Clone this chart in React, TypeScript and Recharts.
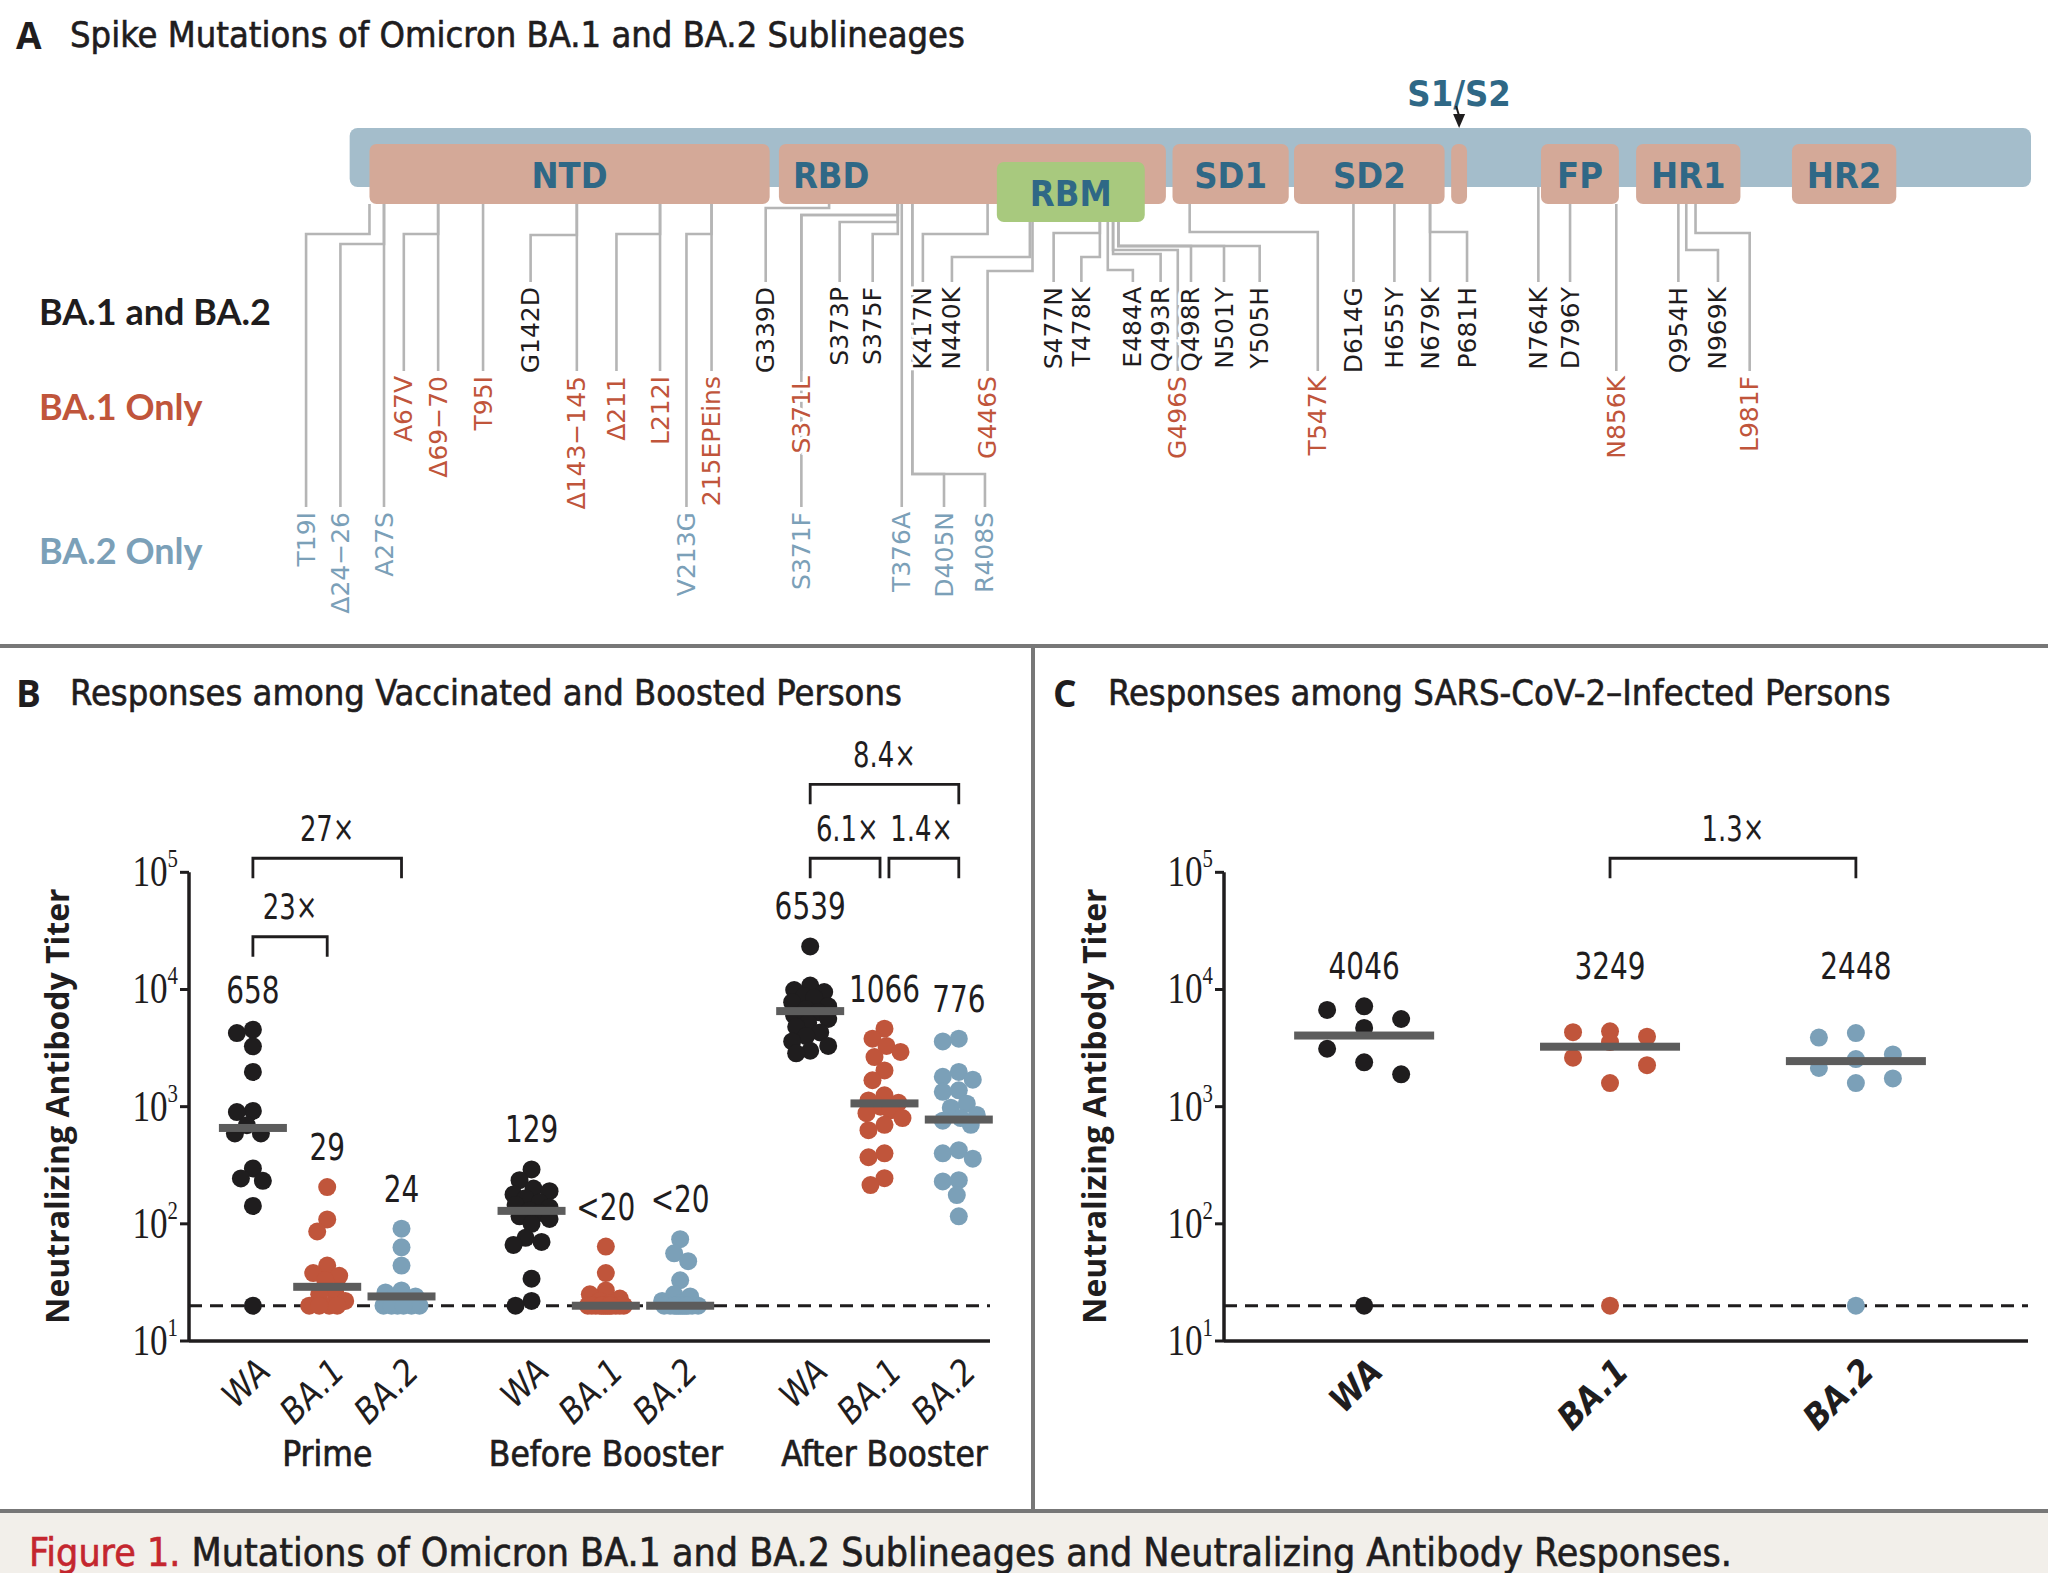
import React from 'react'
import {
  ComposedChart,
  Line,
  ReferenceArea,
  ReferenceDot,
  ReferenceLine,
  Scatter,
  XAxis,
  YAxis,
} from 'recharts'

const NARROW = "'Liberation Sans Narrow', 'DejaVu Sans Condensed', 'Liberation Sans', sans-serif"
const HEAVY = "'Open Sans', 'DejaVu Sans', sans-serif"
const ROUND = "Lato, 'Open Sans', sans-serif"
const PLAIN = "'DejaVu Sans', 'Noto Sans', sans-serif"
const SERIF = "'Liberation Serif', 'DejaVu Serif', serif"

const INK = '#1f1d1e'
const RED = '#c0553b'
const BLUE = '#7ba0b8'
const TEAL = '#2f6886'
const LEADER = '#b5b5b5'
const MEDIAN = '#5c5c5c'

// ---------- panel A: spike schematic (positions along the drawn bar, 1..1273) ----------
const domainNames = ['NTD', 'RBD', 'RBM', 'SD1', 'SD2', '', 'FP', 'HR1', 'HR2']
const domainStart = [15, 325, 490, 623, 715, 834, 902, 974, 1092]
const domainEnd = [318, 618, 602, 711, 829, 846, 961, 1053, 1171]
const cleavageSite = 840

// [mutation, lineage, site on bar, label slot, elbow depth]
const mutations: [string, string, number, number, number | null][] = [
  ['T19I', 'ba2', 15, -33, 234],
  ['Δ24−26', 'ba2', 26, -7, 244],
  ['A27S', 'ba2', 26, 26, null],
  ['A67V', 'ba1', 67, 41, 234],
  ['Δ69−70', 'ba1', 67, 67, null],
  ['T95I', 'ba1', 101, 101, null],
  ['G142D', 'both', 172, 137, 235],
  ['Δ143−145', 'ba1', 172, 172, null],
  ['Δ211', 'ba1', 235, 202, 234],
  ['L212I', 'ba1', 235, 235, null],
  ['V213G', 'ba2', 274, 255, 234],
  ['215EPEins', 'ba1', 274, 274, null],
  ['G339D', 'both', 363, 315, 208],
  ['S371L', 'ba1', 415, 342, 215],
  ['S371F', 'ba2', 415, 342, 215],
  ['S373P', 'both', 415, 371, 222],
  ['S375F', 'both', 415, 396, 234],
  ['T376A', 'ba2', 418, 418, null],
  ['D405N', 'ba2', 426, 450, 474],
  ['R408S', 'ba2', 426, 481, 474],
  ['K417N', 'both', 483, 434, 234],
  ['N440K', 'both', 515, 456, 257],
  ['G446S', 'ba1', 517, 483, 271],
  ['S477N', 'both', 568, 533, 233],
  ['T478K', 'both', 568, 554, 257],
  ['E484A', 'both', 574, 593, 270],
  ['Q493R', 'both', 578, 614, 254],
  ['G496S', 'ba1', 578, 627, 250],
  ['Q498R', 'both', 582, 637, 246],
  ['N501Y', 'both', 582, 662, 246],
  ['Y505H', 'both', 582, 689, 246],
  ['T547K', 'ba1', 636, 733, 232],
  ['D614G', 'both', 760, 760, null],
  ['H655Y', 'both', 791, 791, null],
  ['N679K', 'both', 818, 818, null],
  ['P681H', 'both', 818, 846, 232],
  ['N764K', 'both', 900, 900, null],
  ['D796Y', 'both', 924, 924, null],
  ['N856K', 'ba1', 959, 959, null],
  ['Q954H', 'both', 1006, 1006, null],
  ['N969K', 'both', 1012, 1036, 250],
  ['L981F', 'ba1', 1019, 1060, 233],
]

// ---------- panels B and C: neutralizing titers ----------
const strains = ['WA', 'BA.1', 'BA.2']
const cohorts = ['Prime', 'Before Booster', 'After Booster']

const primeWA = [4540, 4250, 3270, 1980, 920, 900, 694, 590, 590, 297, 244, 233, 142, 20]
const primeBA1 = [206, 109, 86, 44, 38, 36, 33, 26, 25, 22, 20, 20, 20, 20]
const primeBA2 = [91, 63, 44, 27, 26, 24, 23, 22, 20, 20, 20, 20, 20, 20]
const beforeWA = [291, 236, 200, 190, 178, 165, 152, 145, 138, 130, 124, 116, 110, 100, 76, 70, 66, 34, 22, 20]
const beforeBA1 = [64, 38, 27, 25, 23, 22, 21, 20, 20, 20, 20, 20, 20, 20, 20, 20, 20, 20, 20, 20]
const beforeBA2 = [74, 56, 48, 33, 25, 24, 22, 21, 20, 20, 20, 20, 20, 20, 20, 20, 20, 20, 20, 20]
const afterWA = [23300, 10800, 9900, 9500, 8800, 8500, 7800, 7200, 6800, 6400, 6000, 5600, 5200, 4800, 4300, 4000, 3600, 3300, 3000, 2850]
const afterBA1 = [4630, 3800, 3300, 2930, 2650, 2040, 1680, 1250, 1130, 1080, 1000, 930, 880, 800, 700, 630, 400, 370, 245, 214]
const afterBA2 = [3800, 3600, 1980, 1800, 1700, 1380, 1340, 1060, 980, 850, 800, 760, 700, 425, 400, 360, 236, 230, 176, 116]
const mediansB = [658, 29, 24, 129, 20, 20, 6539, 1066, 776]
const medianTextB = ['658', '29', '24', '129', '<20', '<20', '6539', '1066', '776']

const infectedWA = [7180, 6690, 5600, 4700, 3120, 2390, 1890, 20]
const infectedBA1 = [4400, 4320, 3960, 3560, 2620, 2260, 1590, 20]
const infectedBA2 = [4250, 3890, 2790, 2550, 2140, 1740, 1590, 20]
const mediansC = [4046, 3249, 2448]

// [fold change, from group, to group, log10 of bracket top]
const bracketsB: [string, number, number, number][] = [
  ['23×', 0, 1, 4.45],
  ['27×', 0, 2, 5.12],
  ['6.1×', 6, 7, 5.12],
  ['1.4×', 7, 8, 5.12],
  ['8.4×', 6, 8, 5.75],
]
const bracketsC: [string, number, number, number][] = [['1.3×', 1, 2, 5.12]]

const strainColors = [INK, RED, BLUE]
const lineageColor: Record<string, string> = { both: INK, ba1: RED, ba2: BLUE }

// ---------- layout ----------
const A_H = 640
const BAR = [128, 187]
const BOX = [144, 204]
const INNER_BOX = [162, 222]
const ROW_TOP: Record<string, number> = { both: 287, ba1: 376, ba2: 512 }

const PANEL_TOP = 646
const PANEL_H = 865
const MARGIN_TOP = 74
const MARGIN_BOTTOM = 140
const X_AXIS_H = 30
const Y_AXIS_W = 60
const Y_DOMAIN = [10, 10 ** 6.3]
const Y_TICKS = [10, 100, 1000, 10000, 100000]

const isNested = (i: number) =>
  domainStart.some((s, j) => j !== i && s <= domainStart[i] && domainEnd[j] >= domainEnd[i])
const hasChild = (i: number) =>
  domainStart.some((s, j) => j !== i && s >= domainStart[i] && domainEnd[j] <= domainEnd[i])

const leaderTop = (site: number) => {
  let y = BAR[1]
  domainStart.forEach((s, i) => {
    if (site >= s && site <= domainEnd[i]) y = Math.max(y, isNested(i) ? INNER_BOX[1] : BOX[1])
  })
  return y
}

// deterministic beeswarm, in pixels, returned in x-axis units
function swarm(values: number[], pxPerX: number, pxPerDecade: number, diam: number, offsets: number[]) {
  const order = values.map((_, i) => i).sort((a, b) => values[b] - values[a])
  const placed: { x: number; y: number }[] = []
  const out: number[] = new Array(values.length).fill(0)
  for (const i of order) {
    const y = -Math.log10(values[i]) * pxPerDecade
    let best = 0
    let bestGap = -1
    for (const c of offsets) {
      const gap = placed.reduce((m, p) => Math.min(m, Math.hypot(p.x - c, p.y - y)), Infinity)
      if (gap >= diam) {
        best = c
        break
      }
      if (gap > bestGap) {
        best = c
        bestGap = gap
      }
    }
    placed.push({ x: best, y })
    out[i] = best / pxPerX
  }
  return out
}

const Txt = ({ x, y, size, color = INK, family = NARROW, weight = 400, stroke = 0, children }: any) => (
  <div
    style={{
      position: 'absolute',
      left: x,
      top: y,
      transform: 'translateY(-50%)',
      fontSize: size,
      lineHeight: 1,
      fontFamily: family,
      fontWeight: weight,
      color,
      whiteSpace: 'nowrap',
      WebkitTextStroke: stroke ? `${stroke}px ${color}` : undefined,
    }}
  >
    {children}
  </div>
)

const VTxt = ({ x, y, size, children }: any) => (
  <div
    style={{
      position: 'absolute',
      left: x,
      top: y,
      writingMode: 'vertical-rl',
      transform: 'translate(-50%, -50%) rotate(180deg)',
      fontSize: size,
      lineHeight: 1,
      fontFamily: HEAVY,
      fontWeight: 700,
      color: INK,
      whiteSpace: 'nowrap',
    }}
  >
    {children}
  </div>
)

// condensed svg text: taller glyphs squeezed horizontally
const Tall = ({ x, y, size, squeeze = 0.84, anchor = 'middle', children }: any) => (
  <text
    transform={`translate(${x} ${y}) scale(${squeeze} 1)`}
    textAnchor={anchor}
    dominantBaseline="central"
    fontFamily={NARROW}
    fontSize={size}
    fill={INK}
  >
    {children}
  </text>
)

const MutationLabel = ({ cx, cy, payload }: any) => (
  <text
    x={cx}
    y={cy}
    transform={`rotate(-90 ${cx} ${cy})`}
    textAnchor="end"
    dominantBaseline="central"
    fontFamily={PLAIN}
    fontSize={25}
    fill={lineageColor[payload.lineage]}
    stroke="#fff"
    strokeWidth={6}
    paintOrder="stroke"
  >
    {payload.name}
  </text>
)

const CleavageMark = ({ cx, cy }: any) => (
  <g>
    <text x={cx} y={cy - 35} textAnchor="middle" dominantBaseline="central" fontFamily={NARROW} fontSize={36} fontWeight={700} fill={TEAL}>
      S1/S2
    </text>
    <line x1={cx - 3} y1={cy - 22} x2={cx} y2={cy - 12} stroke={INK} strokeWidth={2} />
    <path d={`M${cx - 6},${cy - 14} L${cx + 6},${cy - 14} L${cx},${cy} Z`} fill={INK} />
  </g>
)

function SpikeMap() {
  const labelData = mutations.map(([name, lineage, , slot]) => ({ x: slot, y: ROW_TOP[lineage], name, lineage }))
  const leaders = mutations.map(([, lineage, site, slot, elbow]) => {
    const top = leaderTop(site)
    const end = ROW_TOP[lineage] - 5
    return elbow == null
      ? [{ x: site, y: top }, { x: site, y: end }]
      : [{ x: site, y: top }, { x: site, y: elbow }, { x: slot, y: elbow }, { x: slot, y: end }]
  })

  return (
    <ComposedChart width={2048} height={A_H} margin={{ top: 0, right: 17, bottom: 0, left: 244 }}>
      <XAxis type="number" dataKey="x" domain={[-80, 1273]} hide />
      <YAxis type="number" dataKey="y" domain={[0, A_H]} reversed hide />
      <ReferenceArea
        x1={0}
        x2={1273}
        y1={BAR[0]}
        y2={BAR[1]}
        shape={(p: any) => <rect x={p.x} y={p.y} width={p.width} height={p.height} rx={8} fill="#a4bdcb" />}
      />
      {leaders.map((pts, i) => (
        <Line
          key={mutations[i][0]}
          data={pts}
          dataKey="y"
          type="linear"
          stroke={LEADER}
          strokeWidth={2.6}
          dot={false}
          isAnimationActive={false}
        />
      ))}
      {domainNames.map((name, i) => {
        const nested = isNested(i)
        const [y1, y2] = nested ? INNER_BOX : BOX
        return (
          <ReferenceArea
            key={i}
            x1={domainStart[i]}
            x2={domainEnd[i]}
            y1={y1}
            y2={y2}
            shape={(p: any) => (
              <g>
                <rect x={p.x} y={p.y} width={p.width} height={p.height} rx={7} fill={nested ? '#a8c97e' : '#d4a998'} />
                <text
                  x={hasChild(i) ? p.x + 14 : p.x + p.width / 2}
                  y={p.y + p.height / 2 + 1}
                  textAnchor={hasChild(i) ? 'start' : 'middle'}
                  dominantBaseline="central"
                  fontFamily={NARROW}
                  fontSize={36}
                  fontWeight={700}
                  fill={TEAL}
                >
                  {name}
                </text>
              </g>
            )}
          />
        )
      })}
      <ReferenceDot x={cleavageSite} y={BAR[0]} shape={CleavageMark} />
      <Scatter data={labelData} shape={MutationLabel} isAnimationActive={false} />
    </ComposedChart>
  )
}

const PowerTick = ({ x, y, payload }: any) => (
  <text transform={`translate(${x} ${y + 14}) scale(0.8 1)`} textAnchor="end" fontFamily={SERIF} fontSize={44} fill={INK}>
    10
    <tspan dy={-19} fontSize={26}>
      {Math.round(Math.log10(payload.value))}
    </tspan>
  </text>
)

type Group = { slot: number; strain: number; values: number[]; median: number; text: string }

function TiterPanel({ width, left, right, xDomain, groups, brackets, diam, offsets, medianWidth, alignLabels, tick }: any) {
  const plotW = width - left - Y_AXIS_W - right
  const plotH = PANEL_H - MARGIN_TOP - MARGIN_BOTTOM - X_AXIS_H
  const pxPerX = plotW / (xDomain[1] - xDomain[0])
  const pxPerDecade = plotH / Math.log10(Y_DOMAIN[1] / Y_DOMAIN[0])
  const all: Group[] = groups
  const panelMax = Math.max(...all.flatMap((g) => g.values))

  const dots = strainColors.map((_, s) =>
    all
      .filter((g) => g.strain === s)
      .flatMap((g) => {
        const off = swarm(g.values, pxPerX, pxPerDecade, diam, offsets)
        return g.values.map((v, i) => ({ x: g.slot + off[i], y: v }))
      }),
  )
  const medians = all.map((g) => ({ x: g.slot, y: g.median }))
  const labels = all.map((g) => ({ x: g.slot, y: alignLabels ? panelMax : Math.max(...g.values), text: g.text }))

  const bracketPaths = (brackets as [string, number, number, number][]).map(([, from, to, level]) => {
    const touchesLeft = brackets.some((b: any) => b[3] === level && b[2] === from)
    const touchesRight = brackets.some((b: any) => b[3] === level && b[1] === to)
    const x1 = all[from].slot + (touchesLeft ? 0.06 : 0)
    const x2 = all[to].slot - (touchesRight ? 0.06 : 0)
    const top = 10 ** level
    const leg = 10 ** (level - 0.17)
    return [{ x: x1, y: leg }, { x: x1, y: top }, { x: x2, y: top }, { x: x2, y: leg }]
  })
  const bracketLabels = (brackets as [string, number, number, number][]).map(([fold, from, to, level]) => ({
    x: (all[from].slot + all[to].slot) / 2,
    y: 10 ** (level + 0.255),
    text: fold,
  }))

  return (
    <ComposedChart
      width={width}
      height={PANEL_H}
      margin={{ top: MARGIN_TOP, right, bottom: MARGIN_BOTTOM, left }}
    >
      <XAxis
        type="number"
        dataKey="x"
        domain={xDomain}
        ticks={all.map((g) => g.slot)}
        interval={0}
        height={X_AXIS_H}
        tickLine={false}
        tickSize={0}
        tickMargin={0}
        axisLine={{ stroke: INK, strokeWidth: 3.5 }}
        tick={tick}
      />
      <YAxis
        type="number"
        dataKey="y"
        scale="log"
        domain={Y_DOMAIN}
        ticks={Y_TICKS}
        interval={0}
        width={Y_AXIS_W}
        axisLine={false}
        tickLine={{ stroke: INK, strokeWidth: 3 }}
        tickSize={9}
        tickMargin={2}
        tick={PowerTick}
      />
      <ReferenceLine
        segment={[
          { x: xDomain[0], y: Y_TICKS[0] },
          { x: xDomain[0], y: Y_TICKS[Y_TICKS.length - 1] },
        ]}
        stroke={INK}
        strokeWidth={3.5}
      />
      <ReferenceLine y={20} stroke={INK} strokeWidth={3} strokeDasharray="13 8" />
      {dots.map((data, s) => (
        <Scatter
          key={strains[s]}
          data={data}
          isAnimationActive={false}
          shape={({ cx, cy }: any) => <circle cx={cx} cy={cy} r={9} fill={strainColors[s]} />}
        />
      ))}
      <Scatter
        data={medians}
        isAnimationActive={false}
        shape={({ cx, cy }: any) => <rect x={cx - medianWidth / 2} y={cy - 4} width={medianWidth} height={8} fill={MEDIAN} />}
      />
      <Scatter
        data={labels}
        isAnimationActive={false}
        shape={({ cx, cy, payload }: any) => (
          <Tall x={cx} y={cy - 40} size={37}>
            {payload.text}
          </Tall>
        )}
      />
      {bracketPaths.map((pts, i) => (
        <Line
          key={i}
          data={pts}
          dataKey="y"
          type="linear"
          stroke={INK}
          strokeWidth={2.8}
          dot={false}
          isAnimationActive={false}
        />
      ))}
      <Scatter
        data={bracketLabels}
        isAnimationActive={false}
        shape={({ cx, cy, payload }: any) => (
          <Tall x={cx} y={cy} size={36} squeeze={0.8}>
            {payload.text}
          </Tall>
        )}
      />
    </ComposedChart>
  )
}

const cohortValues = [
  [primeWA, primeBA1, primeBA2],
  [beforeWA, beforeBA1, beforeBA2],
  [afterWA, afterBA1, afterBA2],
]
const groupsB: Group[] = cohortValues.flatMap((vals, c) =>
  vals.map((values, s) => ({
    slot: c * 3.75 + s,
    strain: s,
    values,
    median: mediansB[c * 3 + s],
    text: medianTextB[c * 3 + s],
  })),
)
const groupsC: Group[] = [infectedWA, infectedBA1, infectedBA2].map((values, s) => ({
  slot: s,
  strain: s,
  values,
  median: mediansC[s],
  text: String(mediansC[s]),
}))

const offsetsB = [0]
for (let d = 2; d <= 18; d += 2) offsetsB.push(-d, d)

const TickB = ({ x, y, payload }: any) => {
  const i = groupsB.findIndex((g) => Math.abs(g.slot - payload.value) < 1e-6)
  if (i < 0) return null
  const g = groupsB[i]
  const ax = x + 11
  const ay = y + 24
  return (
    <g>
      <text
        x={ax}
        y={ay}
        transform={`rotate(-45 ${ax} ${ay})`}
        textAnchor="end"
        dominantBaseline="central"
        fontFamily={NARROW}
        fontStyle="italic"
        fontSize={35}
        fill={INK}
      >
        {strains[g.strain]}
      </text>
      {g.strain === 1 && (
        <text x={x} y={y + 113} textAnchor="middle" dominantBaseline="central" fontFamily={NARROW} fontSize={35} fill={INK} stroke={INK} strokeWidth={0.7}>
          {cohorts[Math.floor(i / 3)]}
        </text>
      )}
    </g>
  )
}

const TickC = ({ x, y, payload }: any) => {
  const i = groupsC.findIndex((g) => Math.abs(g.slot - payload.value) < 1e-6)
  if (i < 0) return null
  const ax = x + 12
  const ay = y + 24
  return (
    <text
      x={ax}
      y={ay}
      transform={`rotate(-45 ${ax} ${ay})`}
      textAnchor="end"
      dominantBaseline="central"
      fontFamily={NARROW}
      fontStyle="italic"
      fontWeight={700}
      fontSize={35}
      fill={INK}
    >
      {strains[groupsC[i].strain]}
    </text>
  )
}

export default function App() {
  return (
    <div style={{ position: 'absolute', left: 0, top: 0, width: 2048, height: 1573, background: '#fff', overflow: 'hidden' }}>
      <div style={{ position: 'absolute', left: 0, top: 0 }}>
        <SpikeMap />
      </div>

      <Txt x={16} y={34} size={37} family={HEAVY} weight={700}>A</Txt>
      <Txt x={70} y={35} size={36} stroke={0.6}>Spike Mutations of Omicron BA.1 and BA.2 Sublineages</Txt>
      <Txt x={39} y={311} size={36} family={ROUND} weight={700}>BA.1 and BA.2</Txt>
      <Txt x={39} y={406} size={36} family={ROUND} weight={700} color={RED}>BA.1 Only</Txt>
      <Txt x={39} y={550} size={36} family={ROUND} weight={700} color={BLUE}>BA.2 Only</Txt>

      <div style={{ position: 'absolute', left: 0, top: 644, width: 2048, height: 4, background: '#777' }} />
      <div style={{ position: 'absolute', left: 1031, top: 646, width: 4, height: 865, background: '#777' }} />

      <Txt x={16} y={692} size={37} family={HEAVY} weight={700}>B</Txt>
      <Txt x={70} y={693} size={36} stroke={0.6}>Responses among Vaccinated and Boosted Persons</Txt>
      <Txt x={1053} y={692} size={37} family={HEAVY} weight={700}>C</Txt>
      <Txt x={1108} y={693} size={36} stroke={0.6}>Responses among SARS-CoV-2–Infected Persons</Txt>

      <div style={{ position: 'absolute', left: 0, top: PANEL_TOP }}>
        <TiterPanel
          width={1031}
          left={129}
          right={41}
          xDomain={[-0.86, 9.92]}
          groups={groupsB}
          brackets={bracketsB}
          diam={15}
          offsets={offsetsB}
          medianWidth={68}
          alignLabels={false}
          tick={TickB}
        />
      </div>
      <div style={{ position: 'absolute', left: 1033, top: PANEL_TOP }}>
        <TiterPanel
          width={1015}
          left={131}
          right={20}
          xDomain={[-0.57, 2.7]}
          groups={groupsC}
          brackets={bracketsC}
          diam={26}
          offsets={[0, -37, 37]}
          medianWidth={140}
          alignLabels={true}
          tick={TickC}
        />
      </div>
      <VTxt x={57} y={1106} size={32}>Neutralizing Antibody Titer</VTxt>
      <VTxt x={1094} y={1106} size={32}>Neutralizing Antibody Titer</VTxt>

      <div style={{ position: 'absolute', left: 0, top: 1509, width: 2048, height: 64, background: '#f2efea', borderTop: '4px solid #777' }} />
      <Txt x={29} y={1552} size={39} stroke={0.6}>
        <span style={{ color: '#c4262e', WebkitTextStroke: '0.6px #c4262e' }}>Figure 1.</span> Mutations of Omicron BA.1 and BA.2 Sublineages and Neutralizing Antibody Responses.
      </Txt>
    </div>
  )
}
